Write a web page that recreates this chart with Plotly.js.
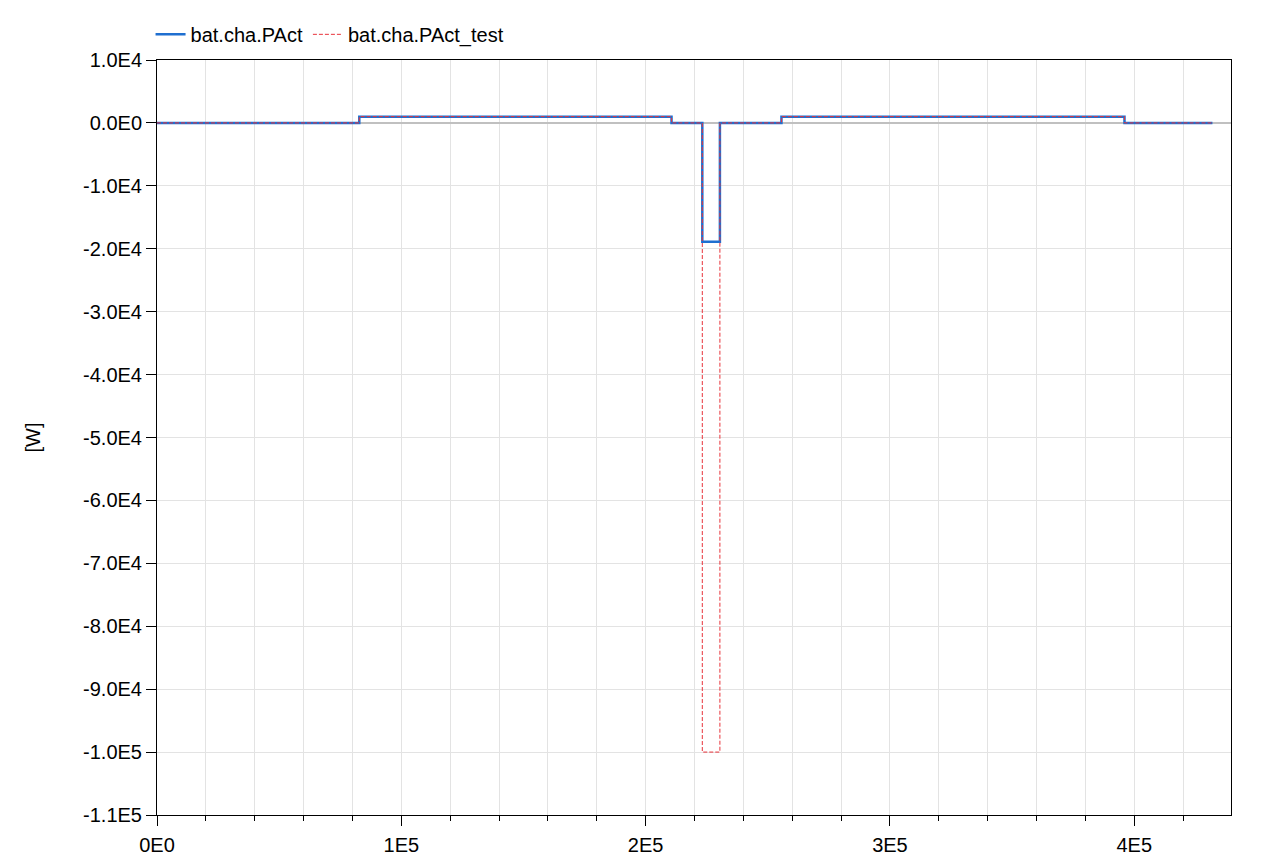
<!DOCTYPE html>
<html>
<head>
<meta charset="utf-8">
<script src="https://cdn.plot.ly/plotly-3.0.1.min.js"></script>
<style>
  html, body { margin: 0; padding: 0; background: #fff; }
  #chart { width: 1277px; height: 861px; }
</style>
</head>
<body>
<div id="chart"></div>
<script>
// time in seconds, step changes of battery power
const time = [0, 82800, 210600, 223200, 230400, 255600, 396000, 432000];
const PAct = [0, 1000, 0, -18900, 0, 1000, 0, 0];
const PActTest = [0, 1000, 0, -100000, 0, 1000, 0, 0];

const yTickVals = [10000, 0, -10000, -20000, -30000, -40000, -50000, -60000, -70000, -80000, -90000, -100000, -110000];
const yTickText = ['1.0E4', '0.0E0', '-1.0E4', '-2.0E4', '-3.0E4', '-4.0E4', '-5.0E4', '-6.0E4', '-7.0E4', '-8.0E4', '-9.0E4', '-1.0E5', '-1.1E5'];
const xTickVals = [0, 100000, 200000, 300000, 400000];
const xTickText = ['0E0', '1E5', '2E5', '3E5', '4E5'];

const font = { family: 'Liberation Sans, Arial, sans-serif', size: 20, color: '#000' };

const data = [
  {
    x: time,
    y: PAct,
    name: 'bat.cha.PAct',
    type: 'scatter',
    mode: 'lines',
    line: { shape: 'hv', color: '#1f6fd0', width: 2.5 },
  },
  {
    x: time,
    y: PActTest,
    name: 'bat.cha.PAct_test',
    type: 'scatter',
    mode: 'lines',
    line: { shape: 'hv', color: '#e8333b', width: 1, dash: '4px,2px' },
  },
];

const layout = {
  width: 1277,
  height: 861,
  font: font,
  paper_bgcolor: '#fff',
  plot_bgcolor: '#fff',
  margin: { l: 157, r: 46, t: 60, b: 46 },
  showlegend: true,
  legend: {
    orientation: 'h',
    x: -0.006,
    xanchor: 'left',
    y: 1.034,
    yanchor: 'middle',
    font: font,
    bgcolor: 'rgba(0,0,0,0)',
  },
  xaxis: {
    range: [0, 439600],
    tickmode: 'array',
    tickvals: xTickVals,
    ticktext: xTickText,
    ticks: 'outside',
    ticklen: 10,
    tickcolor: '#000',
    ticklabelstandoff: 2,
    showline: true,
    linecolor: '#000',
    linewidth: 1,
    mirror: true,
    showgrid: true,
    gridcolor: '#e3e3e3',
    zeroline: false,
    minor: {
      dtick: 20000,
      tick0: 0,
      ticks: 'outside',
      ticklen: 5,
      tickcolor: '#000',
      showgrid: true,
      gridcolor: '#e3e3e3',
    },
    tickfont: font,
  },
  yaxis: {
    range: [-110000, 10000],
    tickmode: 'array',
    tickvals: yTickVals,
    ticktext: yTickText,
    ticks: 'outside',
    ticklen: 10,
    tickcolor: '#000',
    showline: true,
    linecolor: '#000',
    linewidth: 1,
    mirror: true,
    showgrid: true,
    gridcolor: '#e3e3e3',
    zeroline: true,
    zerolinecolor: '#c0c0c0',
    zerolinewidth: 1.5,
    tickfont: font,
    title: { text: '[W]', font: font, standoff: 37 },
  },
};

Plotly.newPlot('chart', data, layout, { displayModeBar: false, staticPlot: true });
</script>
</body>
</html>
